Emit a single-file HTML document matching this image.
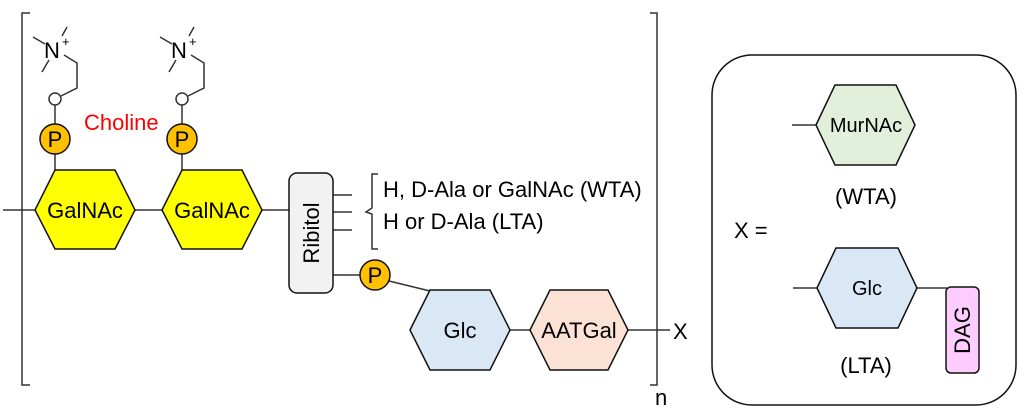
<!DOCTYPE html>
<html><head><meta charset="utf-8"><style>body{margin:0;background:#fff}svg{display:block}text{font-family:"Liberation Sans",sans-serif}</style></head><body>
<svg width="1024" height="415" viewBox="0 0 1024 415" xmlns="http://www.w3.org/2000/svg">
<g stroke="#333" stroke-width="1.5" fill="none">
<path d="M30,13 H22 V385 H30"/>
<path d="M650,13 H657 V385 H650"/>
<line x1="3" y1="210" x2="35" y2="210"/>
<line x1="135" y1="210" x2="162" y2="210"/>
<line x1="262" y1="210" x2="290" y2="210"/>
<line x1="55" y1="154" x2="55" y2="170"/>
<line x1="182" y1="154" x2="182" y2="170"/>
<line x1="55" y1="105" x2="55" y2="124"/>
<line x1="182" y1="105" x2="182" y2="124"/>
<path d="M61,96 L77,88 V63 L64,55 M33,37 L45,44 M67,27 L62,36 M42,72 L49,60"/>
<path d="M188,96 L204,88 V63 L191,55 M160,37 L172,44 M194,27 L189,36 M169,72 L176,60"/>
<circle cx="55" cy="99" r="6"/>
<circle cx="182" cy="99" r="6"/>
<line x1="333" y1="195" x2="352" y2="195"/>
<line x1="333" y1="212" x2="352" y2="212"/>
<line x1="333" y1="230" x2="352" y2="230"/>
<path d="M378,174 H372 V208 L366,212 L372,214 V249 H378"/>
<line x1="333" y1="275" x2="360" y2="275"/>
<line x1="389" y1="281" x2="430" y2="291"/>
<line x1="510" y1="330" x2="530" y2="330"/>
<line x1="628" y1="330" x2="670" y2="330"/>
<line x1="792" y1="125" x2="816" y2="125"/>
<line x1="793" y1="288" x2="817" y2="288"/>
<line x1="917" y1="288" x2="947" y2="288"/>
</g>
<g stroke="#111" stroke-width="1.5">
<polygon points="35,210 55,170 115,170 135,210 115,249 55,249" fill="#ffff00"/>
<polygon points="162,210 182,170 242,170 262,210 242,249 182,249" fill="#ffff00"/>
<circle cx="55" cy="139" r="15" fill="#ffc000"/>
<circle cx="182" cy="139" r="15" fill="#ffc000"/>
<rect x="289" y="173" width="44" height="120" rx="8" fill="#f2f2f2"/>
<circle cx="375" cy="275" r="15" fill="#ffc000"/>
<polygon points="410,330 430,290 490,290 510,330 490,370 430,370" fill="#dae8f5"/>
<polygon points="530,330 550,290 608,290 628,330 608,370 550,370" fill="#fbe2d5"/>
<rect x="712" y="55" width="304" height="350" rx="40" fill="none"/>
<polygon points="816,125 835,85 896,85 915,125 896,165 835,165" fill="#e2efda"/>
<polygon points="817,288 836,248 898,248 917,288 898,328 836,328" fill="#dae8f5"/>
<rect x="946" y="287" width="33" height="86" rx="5" fill="#ffccff"/>
</g>
<g font-size="22" fill="#000">
<text x="85" y="218" text-anchor="middle">GalNAc</text>
<text x="212" y="218" text-anchor="middle">GalNAc</text>
<text x="55" y="147" text-anchor="middle">P</text>
<text x="182" y="147" text-anchor="middle">P</text>
<text x="375" y="283" text-anchor="middle">P</text>
<text x="84" y="130" fill="#ff0000">Choline</text>
<text x="383" y="197">H, D-Ala or GalNAc (WTA)</text>
<text x="383" y="229">H or D-Ala (LTA)</text>
<text transform="translate(319,233) rotate(-90)" text-anchor="middle">Ribitol</text>
<text x="460" y="338" text-anchor="middle">Glc</text>
<text x="579" y="338" text-anchor="middle">AATGal</text>
<text x="673" y="339">X</text>
<text x="655" y="405">n</text>
<text x="866" y="132" text-anchor="middle" font-size="20">MurNAc</text>
<text x="866" y="204" text-anchor="middle">(WTA)</text>
<text x="734" y="238">X =</text>
<text x="867" y="295" text-anchor="middle" font-size="20">Glc</text>
<text x="866" y="373" text-anchor="middle">(LTA)</text>
<text transform="translate(970,330) rotate(-90)" text-anchor="middle">DAG</text>
<text x="52" y="58" text-anchor="middle">N</text>
<text x="179" y="58" text-anchor="middle">N</text>
</g>
<text x="62" y="46" font-size="13">+</text>
<text x="189" y="46" font-size="13">+</text>
</svg>
</body></html>
